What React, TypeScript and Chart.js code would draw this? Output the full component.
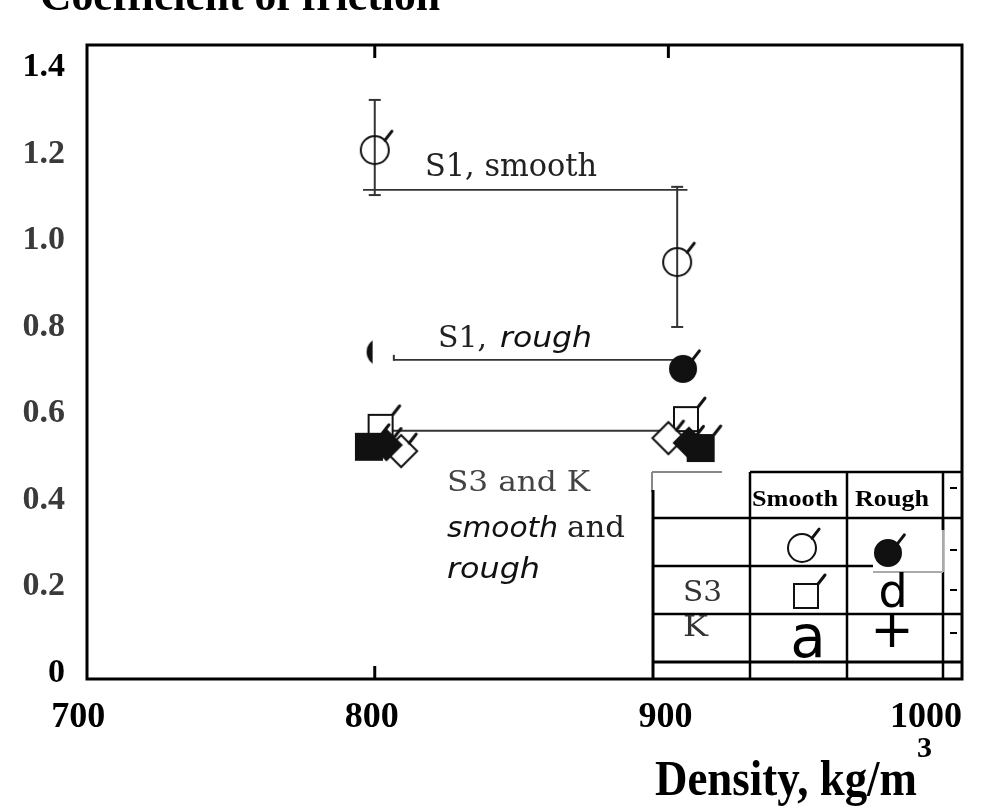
import React, { useEffect, useRef } from 'react';
import { Chart, registerables } from 'chart.js';

Chart.register(...registerables);

// ---- axes ----
const X_MIN = 702;
const X_MAX = 1000;
const Y_MIN = -0.014;
const Y_MAX = 1.452;
const xTickValues = [700, 800, 900, 1000];
const xTickLabels = ['700', '800', '900', '1000'];
const xInnerTicks = [800, 900];
const yTickValues = [0, 0.2, 0.4, 0.6, 0.8, 1.0, 1.2, 1.4];
const yTickLabels = ['0', '0.2', '0.4', '0.6', '0.8', '1.0', '1.2', '1.4'];

// ---- data ----
const s1SmoothX = [800, 903];
const s1SmoothY = [1.209, 0.95];
const s1SmoothLow = [1.105, 0.8];
const s1SmoothHigh = [1.325, 1.124];

const s1RoughX = [802, 905];
const s1RoughY = [0.742, 0.703];

const s3SmoothX = [802, 906];
const s3SmoothY = [0.569, 0.587];
const s3RoughX = [798, 911];
const s3RoughY = [0.523, 0.52];
const kSmoothX = [809, 900];
const kSmoothY = [0.513, 0.543];
const kRoughX = [804, 907];
const kRoughY = [0.527, 0.532];

const s1SmoothLineX = [796, 906.5];
const s1SmoothLineY = [1.117, 1.117];
const s1RoughLineX = [806.5, 905];
const s1RoughLineY = [0.724, 0.724];
const s3kLineX = [800, 902];
const s3kLineY = [0.56, 0.56];

const titleText = 'Coefficient of friction';
const xTitleText = 'Density, kg/m';
const xTitleSup = '3';

type Shape = 'circle' | 'square' | 'diamond';

function makeMarker(shape: Shape, filled: boolean, size: number): HTMLCanvasElement {
  const S = 64;
  const c = S / 2;
  const cv = document.createElement('canvas');
  cv.width = S;
  cv.height = S;
  const g = cv.getContext('2d')!;
  g.lineWidth = 2;
  g.strokeStyle = '#111';
  g.fillStyle = filled ? '#111' : '#fff';
  let tx = 0;
  let ty = 0;
  g.beginPath();
  if (shape === 'circle') {
    g.arc(c, c, size, 0, Math.PI * 2);
    tx = c + size * 0.72;
    ty = c - size * 0.7;
  } else if (shape === 'square') {
    g.rect(c - size, c - size, 2 * size, 2 * size);
    tx = c + size;
    ty = c - size;
  } else {
    g.moveTo(c, c - size);
    g.lineTo(c + size, c);
    g.lineTo(c, c + size);
    g.lineTo(c - size, c);
    g.closePath();
    tx = c + size / 2;
    ty = c - size / 2;
  }
  if (filled || shape !== 'circle') g.fill();
  g.stroke();
  g.beginPath();
  g.lineWidth = 3;
  g.lineCap = 'round';
  g.moveTo(tx, ty);
  g.lineTo(tx + 7, ty - 9);
  g.stroke();
  return cv;
}

function fitText(ctx: CanvasRenderingContext2D, text: string, x: number, y: number, width: number, font: string, color = '#222') {
  ctx.save();
  ctx.font = font;
  ctx.fillStyle = color;
  ctx.textAlign = 'left';
  ctx.textBaseline = 'alphabetic';
  const w = ctx.measureText(text).width;
  ctx.translate(x, y);
  ctx.scale(width / w, 1);
  ctx.fillText(text, 0, 0);
  ctx.restore();
}

function line(ctx: CanvasRenderingContext2D, x1: number, y1: number, x2: number, y2: number, w: number, color = '#000') {
  ctx.save();
  ctx.strokeStyle = color;
  ctx.lineWidth = w;
  ctx.beginPath();
  ctx.moveTo(x1, y1);
  ctx.lineTo(x2, y2);
  ctx.stroke();
  ctx.restore();
}

export default function App() {
  const ref = useRef<HTMLCanvasElement | null>(null);

  useEffect(() => {
    document.body.style.margin = '0';
    const canvas = ref.current;
    if (!canvas) return;

    const mOpenCircle = makeMarker('circle', false, 14);
    const mFilledCircle = makeMarker('circle', true, 13);
    const mOpenSquare = makeMarker('square', false, 12);
    const mFilledSquare = makeMarker('square', true, 13);
    const mOpenDiamond = makeMarker('diamond', false, 16);
    const mFilledDiamond = makeMarker('diamond', true, 15);

    const pts = (xs: number[], ys: number[]) => xs.map((x, i) => ({ x, y: ys[i] }));
    const lineDs = (xs: number[], ys: number[]) => ({
      data: pts(xs, ys),
      showLine: true,
      borderColor: '#333',
      borderWidth: 1.8,
      pointRadius: 0,
      order: 20,
    });
    const ptDs = (label: string, xs: number[], ys: number[], img: HTMLCanvasElement, order: number) => ({
      label,
      data: pts(xs, ys),
      showLine: false,
      pointStyle: img,
      pointRadius: 12,
      order,
    });

    const errorBars = {
      id: 'errorBars',
      beforeDatasetsDraw(chart: any) {
        const ctx = chart.ctx as CanvasRenderingContext2D;
        const xs = chart.scales.x;
        const ys = chart.scales.y;
        s1SmoothX.forEach((x, i) => {
          const px = xs.getPixelForValue(x);
          const lo = ys.getPixelForValue(s1SmoothLow[i]);
          const hi = ys.getPixelForValue(s1SmoothHigh[i]);
          line(ctx, px, lo, px, hi, 2, '#333');
          line(ctx, px - 6, lo, px + 6, lo, 2, '#333');
          line(ctx, px - 6, hi, px + 6, hi, 2, '#333');
        });
      },
    };

    const decor = {
      id: 'decor',
      afterDatasetsDraw(chart: any) {
        const ctx = chart.ctx as CanvasRenderingContext2D;
        const xs = chart.scales.x;
        const ys = chart.scales.y;
        const a = chart.chartArea;

        // scan occlusion over the left S1-rough marker
        const ex = xs.getPixelForValue(s1RoughLineX[0]);
        const ey = ys.getPixelForValue(s1RoughLineY[0]);
        ctx.save();
        ctx.fillStyle = '#fff';
        const ox = xs.getPixelForValue(s1RoughX[0]) - 8;
        const oTop = ys.getPixelForValue(0.81);
        ctx.fillRect(ox, oTop, 21, ys.getPixelForValue(0.69) - oTop);
        ctx.fillRect(ox + 20, oTop, 10, ey - 4 - oTop);
        ctx.restore();
        // small end tick of S1 rough line
        line(ctx, ex, ey - 5, ex, ey + 1, 2, '#333');

        // ---- legend table ----
        ctx.save();
        ctx.fillStyle = '#fff';
        ctx.fillRect(652, 472, a.right - 652, a.bottom - 472);
        ctx.restore();
        line(ctx, 652, 472, 722, 472, 2, '#888');
        line(ctx, 652, 472, 652, 492, 2, '#888');
        line(ctx, 653, 490, 653, a.bottom, 3, '#000');
        line(ctx, 750, 472, 750, a.bottom, 2.5);
        line(ctx, 847, 472, 847, a.bottom, 2.5);
        line(ctx, 943, 472, 943, a.bottom, 2.5);
        line(ctx, 750, 472, a.right, 472, 2.5);
        line(ctx, 652, 518, a.right, 518, 2.5);
        line(ctx, 652, 566, 873, 566, 2.5);
        line(ctx, 652, 614, a.right, 614, 2.5);
        line(ctx, 652, 662, a.right, 662, 3);
        // grey box behind filled circle
        ctx.save();
        ctx.fillStyle = '#fff';
        ctx.fillRect(873, 530, 70, 42);
        ctx.restore();
        line(ctx, 943, 530, 943, 572, 2, '#aaa');
        line(ctx, 873, 572, 943, 572, 2, '#aaa');
        line(ctx, 943, 518, 943, 530, 2.5);

        fitText(ctx, 'Smooth', 752, 506, 86, 'bold 23px "Liberation Serif"', '#000');
        fitText(ctx, 'Rough', 855, 506, 74, 'bold 23px "Liberation Serif"', '#000');
        fitText(ctx, 'S3', 683, 601, 39, '27px "DejaVu Serif"', '#333');
        fitText(ctx, 'K', 683, 636, 25, '27px "DejaVu Serif"', '#333');
        ctx.drawImage(mOpenCircle, 802 - 32, 548 - 32);
        ctx.drawImage(mFilledCircle, 888 - 32, 553 - 32);
        ctx.drawImage(mOpenSquare, 806 - 32, 596 - 32);
        ctx.save();
        ctx.fillStyle = '#000';
        ctx.textAlign = 'center';
        ctx.textBaseline = 'alphabetic';
        ctx.font = '46px "DejaVu Sans"';
        ctx.fillText('d', 893, 607);
        ctx.font = '58px "DejaVu Sans"';
        ctx.fillText('a', 808, 657);
        ctx.font = '52px "DejaVu Sans"';
        ctx.textBaseline = 'middle';
        ctx.fillText('+', 892, 633);
        ctx.restore();
        [488, 550, 590, 633].forEach((yy) => line(ctx, 950, yy, 957, yy, 2));

        // ---- annotations ----
        fitText(ctx, 'S1, smooth', 425, 176, 172, '32px "DejaVu Serif"');
        fitText(ctx, 'S1,', 438, 347, 49, '29px "DejaVu Serif"');
        fitText(ctx, 'rough', 500, 347, 92, 'italic 29px "DejaVu Sans"', '#111');
        fitText(ctx, 'S3 and K', 447, 491, 143, '28px "DejaVu Serif"', '#444');
        fitText(ctx, 'smooth', 447, 537, 111, 'italic 29px "DejaVu Sans"', '#111');
        fitText(ctx, 'and', 567, 537, 58, '29px "DejaVu Serif"');
        fitText(ctx, 'rough', 447, 578, 93, 'italic 29px "DejaVu Sans"', '#111');

        // ---- frame ----
        ctx.save();
        ctx.strokeStyle = '#000';
        ctx.lineWidth = 3;
        ctx.strokeRect(a.left, a.top, a.right - a.left, a.bottom - a.top);
        ctx.restore();
        xInnerTicks.forEach((v) => {
          const px = xs.getPixelForValue(v);
          line(ctx, px, a.top, px, a.top + 13, 3);
          if (px < 652) line(ctx, px, a.bottom - 13, px, a.bottom, 3);
        });

        // ---- x tick labels ----
        ctx.save();
        ctx.fillStyle = '#000';
        ctx.font = 'bold 36px "Liberation Serif"';
        ctx.textBaseline = 'middle';
        xTickValues.forEach((v, i) => {
          const px = xs.getPixelForValue(v);
          const last = i === xTickValues.length - 1;
          ctx.textAlign = last ? 'right' : 'center';
          ctx.fillText(xTickLabels[i], last ? px : px - 3, 718);
        });
        ctx.restore();

        // ---- titles ----
        fitText(ctx, titleText, 40, 10, 400, 'bold 44px "Liberation Serif"', '#000');
        fitText(ctx, xTitleText, 655, 795, 262, 'bold 51px "Liberation Serif"', '#000');
        fitText(ctx, xTitleSup, 917, 757, 15, 'bold 30px "Liberation Serif"', '#000');
      },
    };

    const chart = new Chart(canvas, {
      type: 'scatter',
      data: {
        datasets: [
          lineDs(s1SmoothLineX, s1SmoothLineY),
          lineDs(s1RoughLineX, s1RoughLineY),
          lineDs(s3kLineX, s3kLineY),
          ptDs('S1 smooth', s1SmoothX, s1SmoothY, mOpenCircle, 1),
          ptDs('S1 rough', s1RoughX, s1RoughY, mFilledCircle, 1),
          ptDs('S3 smooth', s3SmoothX, s3SmoothY, mOpenSquare, 6),
          ptDs('K smooth', kSmoothX, kSmoothY, mOpenDiamond, 5),
          ptDs('K rough', kRoughX, kRoughY, mFilledDiamond, 4),
          ptDs('S3 rough', s3RoughX, s3RoughY, mFilledSquare, 3),
        ] as any,
      },
      options: {
        responsive: false,
        animation: false,
        devicePixelRatio: 1,
        events: [],
        layout: { padding: { top: 45, right: 39, left: 0, bottom: 0 } },
        plugins: { legend: { display: false }, tooltip: { enabled: false } },
        scales: {
          x: {
            type: 'linear',
            min: X_MIN,
            max: X_MAX,
            grid: { display: false, drawTicks: false },
            border: { display: false },
            ticks: { display: false },
            afterFit: (s: any) => {
              s.height = 130;
            },
          },
          y: {
            type: 'linear',
            min: Y_MIN,
            max: Y_MAX,
            grid: { display: false, drawTicks: false, tickLength: 0 },
            border: { display: false },
            afterBuildTicks: (s: any) => {
              s.ticks = yTickValues.map((v) => ({ value: v }));
            },
            afterFit: (s: any) => {
              s.width = 87;
            },
            ticks: {
              padding: 22,
              font: { family: 'Liberation Serif', size: 34, weight: 'bold' },
              color: (c: any) => (c.tick && (c.tick.value === 0 || c.tick.value === 1.4) ? '#000' : '#3a3a3a'),
              callback: (v: any) => {
                const i = yTickValues.findIndex((t) => Math.abs(t - Number(v)) < 1e-6);
                return i >= 0 ? yTickLabels[i] : '';
              },
            },
          },
        },
      },
      plugins: [errorBars, decor],
    });

    return () => chart.destroy();
  }, []);

  return (
    <div style={{ width: 1001, height: 809, position: 'relative', background: '#fff' }}>
      <canvas ref={ref} width={1001} height={809} style={{ display: 'block', width: 1001, height: 809 }} />
    </div>
  );
}
